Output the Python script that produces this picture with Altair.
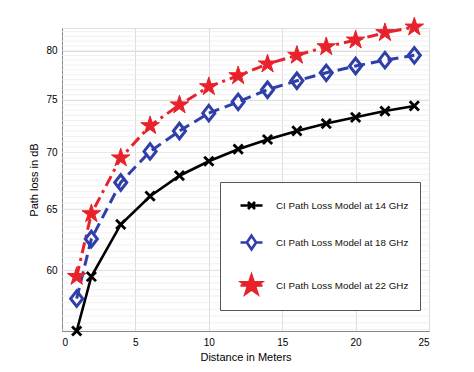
import altair as alt
import pandas as pd
import numpy as np

# ---- data ----
distance = [1, 2, 4, 6, 8, 10, 12, 14, 16, 18, 20, 22, 24]
pl14 = [55.4, 59.5, 63.7, 66.1, 67.9, 69.2, 70.3, 71.2, 72.0, 72.7, 73.3, 73.9, 74.4]
pl18 = [57.8, 62.5, 67.3, 70.1, 72.0, 73.7, 74.8, 76.0, 76.9, 77.7, 78.4, 79.0, 79.5]
pl22 = [59.5, 64.6, 69.5, 72.5, 74.5, 76.3, 77.4, 78.6, 79.5, 80.4, 81.1, 81.9, 82.5]
labels = ["CI Path Loss Model at 14 GHz", "CI Path Loss Model at 18 GHz", "CI Path Loss Model at 22 GHz"]
x_ticks = [0, 5, 10, 15, 20, 25]
y_ticks = [60, 65, 70, 75, 80]
y_minor = [v / 2 for v in range(111, 165)]  # 55.5 .. 82.0 every 0.5 dB

colors = ["#000000", "#2f3fa8", "#e8222b"]

rows = []
for lab, vals in zip(labels, [pl14, pl18, pl22]):
    for d, v in zip(distance, vals):
        rows.append({"distance": d, "pl": v, "series": lab})
df = pd.DataFrame(rows)
df_minor = pd.DataFrame({"v": y_minor})

# ---- marker shapes (unit box -1..1) ----
def star(r_out=1.0, r_in=0.382, scale=1.0):
    pts = []
    for i in range(10):
        ang = np.deg2rad(-90 + 36 * i)
        r = (r_out if i % 2 == 0 else r_in) * scale
        pts.append(f"{r*np.cos(ang):.4f},{r*np.sin(ang):.4f}")
    return "M" + "L".join(pts) + "Z"

x_path = "M-1,-1L1,1M-1,1L1,-1"
diamond_path = "M0,-1L0.78,0L0,1L-0.78,0Z"
star_path = star()

leg_paths = [
    "M-1,0L1,0M-0.32,-0.32L0.32,0.32M-0.32,0.32L0.32,-0.32",
    "M-1,0L-0.42,0M0.42,0L1,0M0,-0.62L0.42,0L0,0.62L-0.42,0Z",
    "M-1,0L1,0" + star(scale=0.92),
]

xscale = alt.Scale(domain=[0, 25], nice=False, zero=False)
yscale = alt.Scale(type="log", domain=[55.4, 82.4], nice=False)
xaxis = alt.Axis(values=x_ticks, title="Distance in Meters", format="d", grid=True, ticks=False,
                 labelPadding=6, titlePadding=4, titleFontWeight="normal")
yaxis = alt.Axis(values=y_ticks, title="Path loss in dB", format="d", grid=True, ticks=False,
                 labelPadding=5, titlePadding=6, titleFontWeight="normal")

X = alt.X("distance:Q", scale=xscale, axis=xaxis)
Y = alt.Y("pl:Q", scale=yscale, axis=yaxis)

minor = alt.Chart(df_minor).mark_rule(color="#ececec", strokeWidth=0.8).encode(
    y=alt.Y("v:Q", scale=yscale, axis=yaxis)
)

layers = [minor]
styles = [
    dict(line=dict(strokeWidth=2.6), shape=x_path, size=85, filled=False, sw=2.8),
    dict(line=dict(strokeWidth=3, strokeDash=[11, 6]), shape=diamond_path, size=240, filled=False, sw=3),
    dict(line=dict(strokeWidth=3, strokeDash=[11, 5, 3, 5]), shape=star_path, size=380, filled=True, sw=1),
]
for lab, col, st in zip(labels, colors, styles):
    base = alt.Chart(df).transform_filter(alt.datum.series == lab)
    layers.append(base.mark_line(color=col, **st["line"]).encode(x=X, y=Y))
for lab, col, st in zip(labels, colors, styles):
    base = alt.Chart(df).transform_filter(alt.datum.series == lab)
    layers.append(
        base.mark_point(shape=st["shape"], size=st["size"], filled=st["filled"],
                        color=col, stroke=col, strokeWidth=st["sw"], opacity=1).encode(x=X, y=Y)
    )

leg = alt.Legend(
    orient="none", legendX=158, legendY=154, title=None,
    padding=11, rowPadding=15, symbolSize=484, symbolOffset=8, labelOffset=12,
    symbolStrokeWidth=2.6, strokeColor="#555555", fillColor="#ffffff",
    labelFont="Liberation Sans", labelFontSize=9.8, labelColor="#111111",
    labelExpr="datum.label + '\u00a0\u00a0'", labelLimit=300,
)
legend_layer = alt.Chart(df).transform_filter("false").mark_point(strokeWidth=2.6, opacity=1).encode(
    shape=alt.Shape("series:N", scale=alt.Scale(domain=labels, range=leg_paths), legend=leg),
    stroke=alt.Stroke("series:N", scale=alt.Scale(domain=labels, range=colors), legend=leg),
    fill=alt.Fill("series:N", scale=alt.Scale(domain=labels, range=["transparent", "transparent", colors[2]]), legend=leg),
)
layers.append(legend_layer)

chart = alt.layer(*layers).properties(
    width=367, height=303,
    autosize=alt.AutoSizeParams(type="none"),
    padding={"left": 54, "top": 20, "right": 30, "bottom": 33},
).configure_view(stroke="#333333", strokeWidth=1).configure_axis(
    labelFont="Liberation Sans", titleFont="Liberation Sans",
    labelFontSize=11.5, titleFontSize=11.5, titleFontWeight="normal",
    labelColor="#404040", titleColor="#404040",
    gridColor="#d9d9d9", gridWidth=0.8, domain=False,
).configure(background="#ffffff")

chart.save("out.html", embed_options={"renderer": "svg", "actions": False})
